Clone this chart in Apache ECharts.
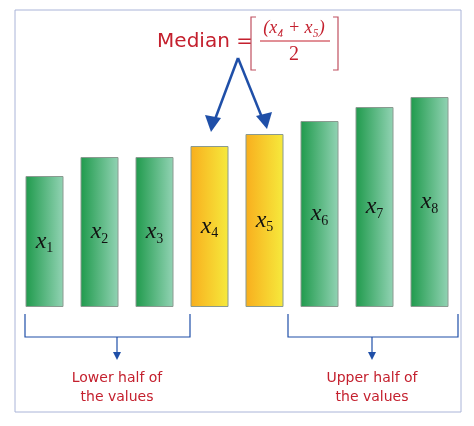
<!DOCTYPE html>
<html><head><meta charset="utf-8">
<script src="https://cdn.jsdelivr.net/npm/echarts@6/dist/echarts.min.js"></script>
<style>html,body{margin:0;padding:0;background:#fff}#c{width:474px;height:426px}</style>
</head><body><div id="c"></div>
<script>
var categories = ['1', '2', '3', '4', '5', '6', '7', '8'];
var values = [131, 150, 150, 161, 173, 186, 200, 210];
var medianIdx = [3, 4];

var green = new echarts.graphic.LinearGradient(0, 0, 1, 0, [
	{offset: 0, color: '#1f9a4c'}, {offset: 1, color: '#92d3b4'}]);
var yellow = new echarts.graphic.LinearGradient(0, 0, 1, 0, [
	{offset: 0, color: '#f8ae1e'}, {offset: 1, color: '#f6ea3c'}]);

var red = '#c4202e', blue = '#1f4fa8';
var txt = {fontFamily: 'DejaVu Sans', fontSize: 14, fill: red, align: 'center'};

var chart = echarts.init(document.getElementById('c'));
chart.setOption({
	animation: false,
	grid: {left: 17, right: 17, top: 57, bottom: 119},
	xAxis: {type: 'category', data: categories, show: false},
	yAxis: {type: 'value', min: 0, max: 250, show: false},
	series: [{
		type: 'bar',
		barWidth: 38,
		data: values.map(function(v, i) {
			return {value: v, itemStyle: {color: medianIdx.indexOf(i) >= 0 ? yellow : green}};
		}),
		itemStyle: {borderColor: '#8a9a90', borderWidth: 1},
		label: {
			show: true, position: 'inside',
			formatter: function(p) { return '{x|x}{s|' + p.name + '}'; },
			rich: {
				x: {fontFamily: 'Liberation Serif', fontStyle: 'italic', fontSize: 24, color: '#111'},
				s: {fontFamily: 'Liberation Serif', fontSize: 14, color: '#111', padding: [14, 0, 0, 0]}
			}
		}
	}],
	graphic: [
		{type: 'rect', shape: {x: 15, y: 10, width: 446, height: 402}, style: {fill: 'none', stroke: '#aab4d8', lineWidth: 1}},
		{type: 'text', x: 205, y: 32, style: {text: 'Median =', font: '20px "DejaVu Sans"', fill: red, align: 'center'}},
		{type: 'polyline', shape: {points: [[256, 17], [251, 17], [251, 70], [256, 70]]}, style: {stroke: '#c05060', lineWidth: 1.2, fill: 'none'}},
		{type: 'polyline', shape: {points: [[333, 17], [338, 17], [338, 70], [333, 70]]}, style: {stroke: '#c05060', lineWidth: 1.2, fill: 'none'}},
		{type: 'line', shape: {x1: 260, y1: 41, x2: 330, y2: 41}, style: {stroke: red, lineWidth: 1}},
		{type: 'text', x: 294, y: 19, style: {text: '(x\u2084 + x\u2085)', font: 'italic 18px "Liberation Serif"', fill: red, align: 'center'}},
		{type: 'text', x: 294, y: 45, style: {text: '2', font: '20px "Liberation Serif"', fill: red, align: 'center'}},
		{type: 'line', shape: {x1: 238, y1: 58, x2: 214, y2: 122}, style: {stroke: blue, lineWidth: 2.5}},
		{type: 'line', shape: {x1: 238, y1: 58, x2: 263, y2: 120}, style: {stroke: blue, lineWidth: 2.5}},
		{type: 'polygon', shape: {points: [[205, 115], [221, 118], [211, 132]]}, style: {fill: blue}},
		{type: 'polygon', shape: {points: [[256, 116], [272, 112], [267, 129]]}, style: {fill: blue}},
		{type: 'polyline', shape: {points: [[25, 314], [25, 337], [190, 337], [190, 314]]}, style: {stroke: blue, lineWidth: 1.2, fill: 'none'}},
		{type: 'line', shape: {x1: 117, y1: 337, x2: 117, y2: 354}, style: {stroke: blue, lineWidth: 1.2}},
		{type: 'polygon', shape: {points: [[113, 352], [121, 352], [117, 360]]}, style: {fill: blue}},
		{type: 'polyline', shape: {points: [[288, 314], [288, 337], [458, 337], [458, 314]]}, style: {stroke: blue, lineWidth: 1.2, fill: 'none'}},
		{type: 'line', shape: {x1: 372, y1: 337, x2: 372, y2: 354}, style: {stroke: blue, lineWidth: 1.2}},
		{type: 'polygon', shape: {points: [[368, 352], [376, 352], [372, 360]]}, style: {fill: blue}},
		{type: 'text', x: 117, y: 369, style: Object.assign({text: 'Lower half of\nthe values', lineHeight: 19}, txt)},
		{type: 'text', x: 372, y: 369, style: Object.assign({text: 'Upper half of\nthe values', lineHeight: 19}, txt)}
	]
});
</script></body></html>
